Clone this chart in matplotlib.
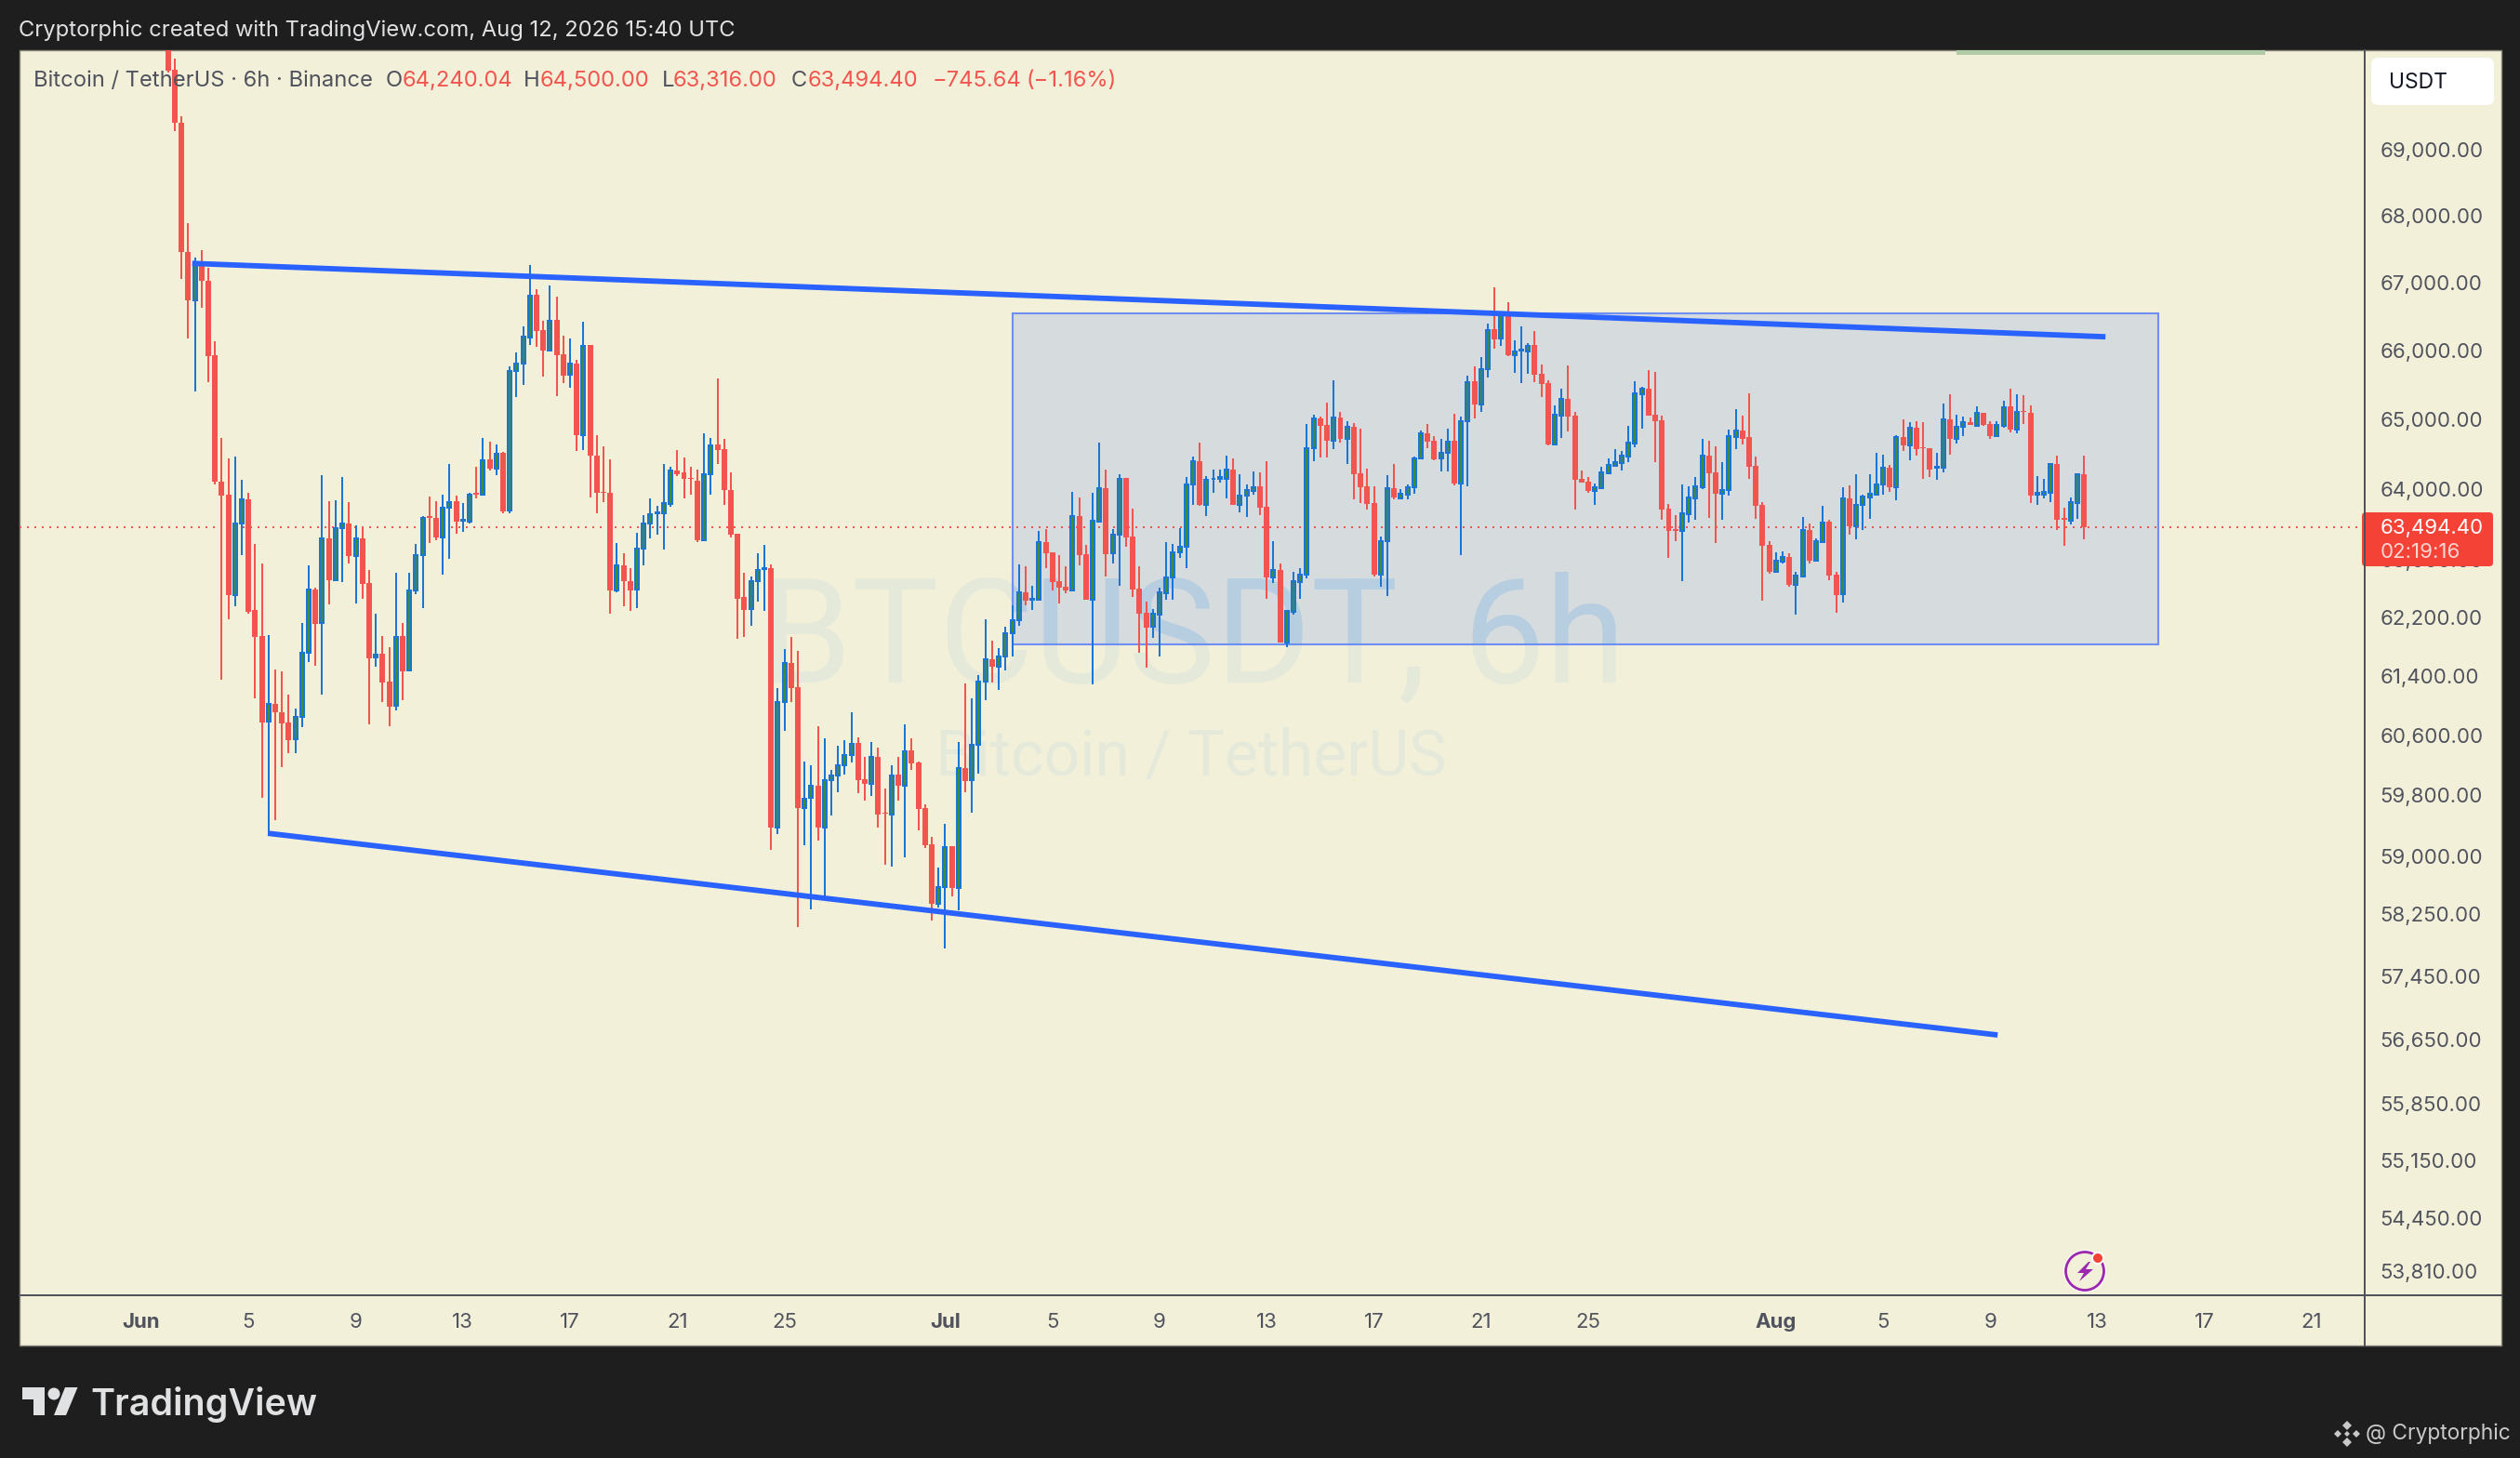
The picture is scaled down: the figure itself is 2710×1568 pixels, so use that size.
import matplotlib
matplotlib.use("Agg")
import matplotlib.pyplot as plt
import numpy as np
from matplotlib.patches import Rectangle, FancyBboxPatch, Circle, Polygon
from matplotlib.transforms import ScaledTranslation

plt.rcParams['font.family'] = ['Inter', 'DejaVu Sans']

first_candle = 4  # 6h candles counted from Jun 1 00:00

candle_dirs = (
    "RRRRBRRRRR" "BBRRRBRRRB" "BBRBRBBRBR" "RBRRBRBBBR" "RBBRBBRBRB"
    "RBBBBRRBRR" "BRBRRRRBRR" "BBBBBBRRRR" "BBRRRRRBBB" "RBBRRBBRBB"
    "BBBRRBRRBR" "BRRRRBBRBR" "BBBRBBBBRB" "BRRRRBRRBB" "RBBRRRRBBB"
    "BBBBRBBBBR" "BBBRRBRBBB" "BBRRBRBRRR" "RBBRBBBBRR" "BBRBBRBBRB"
    "RBBBRRRBBR" "RRRBBBBBBB" "BRRRRRBBBB" "RRBBBRRRRR" "BBRBBRBBRR"
    "BRBBBBBRBR" "BRRRBBRBBR" "BRRBBRBRRB" "BBRRBBR"
)

highs = [
    71500, 70440, 69550, 67920, 67400, 67510, 67250, 66160, 64760, 64470,
    64490, 64160, 63980, 63260, 62980, 61990, 61520, 61490, 61180, 60990,
    62160, 62950, 62640, 64230, 63860, 63870, 64200, 63840, 63520, 63500,
    62890, 62280, 61970, 61820, 62850, 62160, 62850, 63260, 63650, 63920,
    63860, 63950, 64380, 63930, 63830, 63970, 64340, 64760, 64700, 64660,
    64560, 65790, 66000, 66380, 67290, 66930, 66460, 66980, 66820, 66240,
    66200, 65890, 66450, 66110, 64800, 64640, 64450, 63270, 63120, 62920,
    63410, 63660, 63900, 63790, 64390, 64350, 64590, 64480, 64350, 64300,
    64830, 64760, 65620, 64740, 64270, 63400, 62850, 62800, 63120, 63240,
    62970, 61270, 61800, 61960, 61770, 60270, 60230, 60750, 60580, 60160,
    60480, 60560, 60940, 60600, 60340, 60540, 60460, 59910, 60230, 60340,
    60770, 60580, 60270, 59710, 59270, 58870, 59450, 59150, 60530, 61330,
    61120, 61440, 62200, 61910, 61810, 62100, 62400, 62970, 62940, 62670,
    63440, 63460, 63130, 63100, 62940, 63990, 63910, 63240, 63980, 64690,
    64310, 63460, 64240, 64190, 63750, 62940, 62450, 62350, 62640, 63280,
    63250, 63480, 64200, 64490, 64690, 64210, 64310, 64300, 64510, 64470,
    64240, 64100, 64280, 64270, 64430, 63290, 62980, 62340, 62860, 62920,
    64960, 65090, 65070, 65270, 65590, 65130, 65000, 64970, 64890, 64320,
    64070, 63360, 64230, 64390, 64030, 64100, 64490, 64860, 64960, 64790,
    64750, 64890, 65110, 65060, 65660, 65800, 65930, 66420, 66960, 66600,
    66740, 66170, 66380, 66140, 66310, 65820, 65590, 65230, 65470, 65810,
    65130, 64290, 64200, 64110, 64350, 64460, 64600, 64570, 64930, 65580,
    65500, 65740, 65710, 65080, 63820, 63660, 64100, 64070, 64200, 64750,
    64720, 64640, 64410, 64880, 65170, 65080, 65400, 64490, 63840, 63290,
    63140, 63150, 63120, 62860, 63630, 63540, 63330, 63790, 63600, 62860,
    64060, 64080, 64240, 63950, 64240, 64550, 64520, 64370, 64800, 65030,
    64990, 65000, 64990, 64610, 64550, 65250, 65390, 65090, 65070, 65050,
    65210, 65120, 65000, 65000, 65300, 65470, 65390, 65380, 65230, 64210,
    64170, 64400, 64510, 63770, 63910, 64240, 64500,
]

body_tops = [
    71200, 70270, 69450, 67480, 67330, 67330, 67060, 65960, 64140, 63950,
    63540, 63880, 63880, 62330, 61970, 61050, 61050, 60940, 60800, 60870,
    61750, 62620, 62620, 63330, 63330, 63470, 63540, 63540, 63330, 63330,
    62710, 61720, 61730, 61350, 61960, 61970, 62600, 63100, 63620, 63640,
    63620, 63760, 63850, 63860, 63590, 63950, 63970, 64440, 64450, 64530,
    64550, 65730, 65840, 66230, 66840, 66850, 66330, 66470, 66480, 65970,
    65830, 65840, 66100, 66110, 64510, 63990, 63980, 62950, 62960, 62740,
    63190, 63540, 63670, 63700, 63830, 64290, 64290, 64260, 64190, 64150,
    64240, 64650, 64660, 64600, 64020, 63400, 62510, 62730, 62890, 62920,
    62920, 61070, 61600, 61600, 61280, 59780, 59950, 59950, 60020, 60090,
    60220, 60360, 60510, 60520, 60040, 60340, 60340, 59600, 60090, 60100,
    60410, 60420, 60260, 59650, 59180, 58620, 59140, 59150, 60190, 60190,
    60500, 61350, 61660, 61660, 61700, 62020, 62190, 62580, 62580, 62490,
    63280, 63280, 63130, 62730, 62660, 63640, 63650, 63110, 63580, 64040,
    64040, 63390, 64180, 64190, 63360, 62630, 62300, 62280, 62580, 62780,
    63130, 63220, 64100, 64420, 64420, 64160, 64180, 64200, 64300, 64310,
    63940, 64010, 64060, 64070, 63780, 62890, 62890, 62320, 62730, 62830,
    64610, 65040, 65040, 64940, 65050, 65050, 64920, 64920, 64250, 64070,
    63830, 63290, 64040, 64040, 63960, 64060, 64470, 64820, 64830, 64720,
    64540, 64710, 64720, 65000, 65570, 65580, 65750, 66330, 66340, 66560,
    66560, 66010, 66040, 66100, 66110, 65690, 65550, 65090, 65320, 65320,
    65080, 64170, 64130, 64060, 64260, 64370, 64410, 64500, 64690, 65400,
    65470, 65470, 65090, 65010, 63750, 63460, 63680, 63910, 64070, 64500,
    64510, 64260, 64020, 64780, 64860, 64870, 64770, 64360, 63800, 63240,
    63020, 63070, 63070, 62810, 63450, 63450, 63290, 63560, 63570, 62820,
    63890, 63900, 63810, 63920, 63960, 64100, 64330, 64330, 64770, 64770,
    64900, 64910, 64620, 64610, 64350, 65020, 65030, 64920, 64980, 64980,
    65120, 65120, 64960, 64940, 65200, 65210, 65130, 65150, 65120, 63970,
    63990, 64380, 64390, 63620, 63840, 64240, 64240,
]

body_bottoms = [
    70250, 69450, 67480, 66760, 66760, 67060, 65950, 64130, 63930, 62540,
    62540, 63540, 62310, 61960, 60800, 60810, 60930, 60790, 60560, 60570,
    60870, 61750, 62140, 62150, 62750, 62750, 63470, 63080, 63080, 62700,
    61670, 61680, 61340, 61010, 61020, 61490, 61500, 62600, 63100, 63620,
    63350, 63350, 63760, 63570, 63580, 63570, 63950, 63950, 64320, 64320,
    63710, 63720, 65730, 65840, 66220, 66310, 66030, 66030, 65960, 65660,
    65670, 64800, 64800, 64500, 63980, 63980, 62600, 62600, 62730, 62610,
    62620, 63190, 63540, 63690, 63680, 63820, 64240, 64170, 64170, 63300,
    63300, 64240, 64590, 64010, 63390, 62490, 62340, 62350, 62730, 62900,
    59400, 59400, 61070, 61270, 59660, 59660, 59790, 59400, 59400, 60020,
    60090, 60220, 60360, 60020, 59980, 59980, 59570, 59580, 59570, 59950,
    59950, 60250, 59640, 59170, 58400, 58400, 58620, 58610, 58610, 60010,
    60020, 60500, 61350, 61550, 61560, 61690, 62010, 62190, 62460, 62470,
    62470, 63120, 62720, 62650, 62610, 62610, 63100, 62470, 62470, 63570,
    63110, 63120, 63390, 63340, 62620, 62280, 62090, 62100, 62270, 62570,
    62780, 63130, 63220, 64100, 63800, 63810, 64170, 64180, 64180, 63800,
    63810, 63940, 64000, 63770, 62790, 62790, 61890, 61890, 62310, 62720,
    62830, 64610, 64930, 64720, 64720, 64740, 64740, 64240, 64060, 63820,
    62830, 62830, 63290, 63910, 63900, 63950, 64060, 64470, 64700, 64450,
    64460, 64540, 64110, 64110, 65000, 65240, 65240, 65750, 66190, 66200,
    65960, 65960, 66020, 66010, 65670, 65540, 64670, 64670, 65080, 65070,
    64160, 64120, 64000, 64000, 64040, 64250, 64360, 64400, 64490, 64680,
    65390, 65080, 65000, 63740, 63440, 63440, 63440, 63670, 63900, 64060,
    64250, 63960, 63960, 64010, 64770, 64750, 64350, 63790, 63230, 62860,
    62860, 63010, 62680, 62680, 62800, 63020, 63020, 63280, 62810, 62540,
    62550, 63500, 63500, 63800, 63910, 63950, 64090, 64060, 64060, 64650,
    64650, 64600, 64610, 64310, 64330, 64330, 64740, 64740, 64920, 64940,
    64930, 64940, 64790, 64790, 64930, 64880, 64880, 65130, 63930, 63950,
    63950, 63970, 63600, 63600, 63580, 63830, 63494.4,
]

lows = [
    70230, 69320, 67080, 66200, 65430, 66660, 65560, 64090, 61380, 62200,
    62390, 63100, 62280, 61120, 59790, 59290, 59500, 60200, 60390, 60390,
    60740, 61620, 61570, 61180, 62410, 62730, 62720, 62980, 62420, 62490,
    60770, 61550, 61080, 60750, 60960, 61100, 61500, 62550, 62360, 63270,
    63300, 62830, 63050, 63400, 63420, 63540, 63900, 63950, 64290, 64220,
    63680, 63680, 65350, 65520, 66110, 66080, 65650, 66030, 65360, 65550,
    65480, 64570, 64590, 63910, 63690, 63850, 62280, 62580, 62390, 62320,
    62360, 62950, 63330, 63390, 63180, 63780, 64210, 63900, 63950, 63280,
    63300, 63950, 64390, 63810, 63340, 61940, 61960, 62120, 62450, 62320,
    59100, 59310, 60680, 61070, 58100, 59170, 58330, 59230, 58500, 59560,
    59870, 60100, 60260, 59850, 59750, 59810, 59400, 58910, 58890, 59750,
    59010, 60160, 59360, 59130, 58190, 58350, 57830, 58500, 58320, 59870,
    59590, 60110, 61100, 61340, 61240, 61510, 61700, 62120, 62400, 62330,
    62470, 62920, 62600, 62430, 62570, 62610, 62950, 62470, 61310, 63560,
    62800, 62980, 62670, 63210, 62520, 61740, 61540, 61950, 61700, 62480,
    62470, 63060, 62920, 63800, 63790, 63650, 63970, 64120, 63900, 63800,
    63700, 63630, 63950, 63660, 62490, 62710, 61890, 61820, 62270, 62490,
    62770, 64420, 64480, 64480, 64600, 64690, 64390, 63880, 63830, 63740,
    62800, 62660, 62530, 63880, 63880, 63880, 63960, 64450, 64610, 64440,
    64280, 64280, 64080, 63100, 64070, 65040, 65140, 65630, 66050, 66100,
    65940, 65700, 65550, 65690, 65560, 65350, 64650, 64670, 64760, 64850,
    63740, 64120, 63980, 63800, 64040, 64250, 64350, 64290, 64410, 64620,
    64890, 65080, 64410, 63600, 63060, 63290, 62740, 63550, 63600, 64030,
    63620, 63270, 63600, 63940, 64600, 64670, 64170, 63610, 62460, 62840,
    62860, 62980, 62660, 62270, 62800, 62980, 63010, 63280, 62750, 62300,
    62440, 63380, 63320, 63450, 63610, 63950, 63950, 63990, 63870, 64570,
    64440, 64510, 64170, 64200, 64160, 64260, 64520, 64680, 64780, 64940,
    64920, 64930, 64740, 64790, 64910, 64840, 64830, 64960, 63830, 63800,
    63900, 63840, 63450, 63230, 63530, 63610, 63316,
]

last_price = 63494.40

price_ticks = [69000, 68000, 67000, 66000, 65000, 64000, 63000, 62200, 61400, 60600,
               59800, 59000, 58250, 57450, 56650, 55850, 55150, 54450, 53810]

date_ticks = [0, 16, 32, 48, 64, 80, 96, 120, 136, 152, 168, 184, 200, 216, 244, 260, 276, 292, 308, 324]
date_labels = ["Jun", "5", "9", "13", "17", "21", "25", "Jul", "5", "9", "13", "17", "21", "25",
               "Aug", "5", "9", "13", "17", "21"]

upper_line_x = [7.6, 293.2]
upper_line_y = [67315, 66228]
lower_line_x = [18.9, 277.1]
lower_line_y = [59322, 56727]

box_x = [130.05, 301.1]
box_y = [61859, 66571]
strip_x = [271, 317]
strip_y = [70495, 72000]

BG = "#1e1e1e"
PANEL = "#f3f0d9"
RED = "#f2554f"
BLUE = "#1b75d4"
GREEN = "#3c8c3c"
LINE = "#2962ff"
GRAY = "#50535e"

W, H = 2710, 1568
fig = plt.figure(figsize=(W / 100, H / 100), dpi=100, facecolor=BG)


def pixel_axes(zorder):
    a = fig.add_axes([0, 0, 1, 1], zorder=zorder)
    a.set_xlim(0, W)
    a.set_ylim(H, 0)
    a.axis("off")
    return a


back = pixel_axes(0)
front = pixel_axes(5)

back.add_patch(Rectangle((20.5, 54), 2669, 1393, facecolor=PANEL, edgecolor="#85857a", lw=1))

# watermark sits under everything
wm_color = "#2196f3"
wm_font = ["Roboto", "DejaVu Sans"]
back.text(1283, 734, "BTCUSDT, 6h", fontsize=113, family=wm_font, color=wm_color, alpha=0.07,
          ha="center", va="baseline")
back.text(1281, 834, "Bitcoin / TetherUS", fontsize=48.8, family=wm_font, color=wm_color, alpha=0.07,
          ha="center", va="baseline")

# main price pane
ax = fig.add_axes([20.5 / W, 1 - 1393 / H, (2543 - 20.5) / W, (1393 - 54) / H], zorder=2)
ax.patch.set_visible(False)
ax.set_yscale("log")
ax.set_xlim(-18.25, 331.9)
ax.set_ylim(53545, 70574)

n = len(highs)
idx = np.arange(first_candle, first_candle + n)
is_up = np.array([c == "B" for c in candle_dirs])
highs_a, lows_a = np.array(highs, float), np.array(lows, float)
tops_a, bottoms_a = np.array(body_tops, float), np.array(body_bottoms, float)

box = Rectangle((box_x[0], box_y[0]), box_x[1] - box_x[0], box_y[1] - box_y[0],
                facecolor=(0.161, 0.384, 1.0, 0.14), edgecolor="#6f8ff2", lw=1.5, zorder=1)
ax.add_patch(box)
# the box tints the watermark more strongly than the plain pane does
for txt, xx, yy, fs in [("BTCUSDT, 6h", 1283, 734, 113), ("Bitcoin / TetherUS", 1281, 834, 48.8)]:
    t = ax.text(xx, yy, txt, fontsize=fs, family=wm_font, color=wm_color, alpha=0.1,
                ha="center", va="baseline", transform=back.transData, zorder=1.1)
    t.set_clip_on(True)
    t.set_clip_path(box)

ax.add_patch(Rectangle((strip_x[0], strip_y[0]), strip_x[1] - strip_x[0], strip_y[1] - strip_y[0],
                       facecolor="#b1cba7", edgecolor="none", zorder=1))

ax.axhline(last_price, color=RED, lw=1.44, linestyle=(0, (1, 3)), zorder=1.5)

ax.vlines(idx[~is_up], lows_a[~is_up], highs_a[~is_up], color=RED, lw=1.44, zorder=2)
ax.vlines(idx[is_up], lows_a[is_up], highs_a[is_up], color=BLUE, lw=1.44, zorder=2)
ax.bar(idx[~is_up], (tops_a - bottoms_a)[~is_up], bottom=bottoms_a[~is_up], width=0.83,
       color=RED, edgecolor="none", zorder=3)
ax.bar(idx[is_up], (tops_a - bottoms_a)[is_up], bottom=bottoms_a[is_up], width=0.555,
       color=GREEN, edgecolor=BLUE, linewidth=1.44, zorder=3)

ax.plot(upper_line_x, upper_line_y, color=LINE, lw=4.2, solid_capstyle="butt", zorder=4)
ax.plot(lower_line_x, lower_line_y, color=LINE, lw=4.2, solid_capstyle="butt", zorder=4)

ax.yaxis.tick_right()
ax.yaxis.set_minor_locator(matplotlib.ticker.NullLocator())
ax.set_yticks(price_ticks)
ax.set_yticklabels([f"{p:,.2f}" for p in price_ticks], fontsize=16, color=GRAY)
ax.tick_params(axis="y", length=0, pad=12)
up_shift = ScaledTranslation(0, 2 / 100, fig.dpi_scale_trans)
for lab in ax.get_yticklabels():
    lab.set_transform(lab.get_transform() + up_shift)
ax.set_xticks(date_ticks)
ax.set_xticklabels(date_labels, fontsize=16, color=GRAY)
ax.tick_params(axis="x", length=0, pad=14)
for lab, txt in zip(ax.get_xticklabels(), date_labels):
    if txt in ("Jun", "Jul", "Aug"):
        lab.set_fontweight("bold")
for side in ["top", "left", "right", "bottom"]:
    ax.spines[side].set_visible(False)

# pane separators
front.plot([2543, 2543], [54, 1447], color=GRAY, lw=1.44)
front.plot([20.5, 2689.5], [1393, 1393], color=GRAY, lw=1.44)

# header and legend
front.text(20, 33, "Cryptorphic created with TradingView.com, Aug 12, 2026 15:40 UTC",
           fontsize=17.1, color="#dfe1e3", va="center")
legend_parts = [
    (36, "Bitcoin / TetherUS · 6h · Binance", GRAY),
    (415, "O", GRAY), (433, "64,240.04", RED),
    (563, "H", GRAY), (581, "64,500.00", RED),
    (712, "L", GRAY), (724, "63,316.00", RED),
    (851, "C", GRAY), (869, "63,494.40", RED),
    (1003, "−745.64", RED), (1104, "(−1.16%)", RED),
]
for xp, txt, col in legend_parts:
    front.text(xp, 87, txt, fontsize=17.1, color=col, va="center")

# USDT button and last price tag
front.add_patch(FancyBboxPatch((2556, 68), 120, 39, boxstyle="round,pad=6,rounding_size=8",
                               facecolor="white", edgecolor="none"))
front.text(2569, 89, "USDT", fontsize=16.5, color="#131722", va="center")
front.add_patch(FancyBboxPatch((2543, 554), 135, 52, boxstyle="round,pad=3,rounding_size=4",
                               facecolor="#f44336", edgecolor="none"))
front.text(2560, 568, "63,494.40", fontsize=16, color="white", va="center")
front.text(2560, 594, "02:19:16", fontsize=16, color="#fbd5d2", va="center")

# footer logo
logo = "#dfe1e3"
front.add_patch(Polygon([(24, 1492), (48, 1492), (48, 1522), (36, 1522), (36, 1505), (24, 1505)],
                        facecolor=logo, edgecolor="none"))
front.add_patch(Circle((58, 1499), 6.5, facecolor=logo, edgecolor="none"))
front.add_patch(Polygon([(83.5, 1492), (70, 1492), (58, 1522), (71, 1522)], facecolor=logo, edgecolor="none"))
front.text(97, 1522, "TradingView", fontsize=28.4, fontweight="semibold", color=logo, va="baseline")

# bottom right credit
front.text(2544, 1542, "@ Cryptorphic", fontsize=16.4, color="#c9c9c9", va="center")
for dx, dy, s in [(-10, 0, 4), (10, 0, 4), (0, -9, 5), (0, 9, 5), (0, 0, 3)]:
    cx, cy = 2524 + dx, 1542 + dy
    front.add_patch(Polygon([(cx - s, cy), (cx, cy - s), (cx + s, cy), (cx, cy + s)],
                            facecolor="#c9c9c9", edgecolor="none"))

# alert icon
front.add_patch(Circle((2242, 1367), 23, facecolor="white", edgecolor="none"))
front.add_patch(Circle((2242, 1367), 20.5, facecolor=PANEL, edgecolor="#9c27b0", lw=2))
front.add_patch(Polygon([(2246, 1357), (2234, 1369), (2241, 1369), (2236, 1378), (2251, 1365), (2243, 1365), (2248, 1357)],
                        facecolor="#9c27b0", edgecolor="none"))
front.add_patch(Circle((2256, 1353), 7, facecolor="white", edgecolor="none"))
front.add_patch(Circle((2256, 1353), 5, facecolor="#f44336", edgecolor="none"))

fig.savefig("out.png", dpi=100, facecolor=BG)
